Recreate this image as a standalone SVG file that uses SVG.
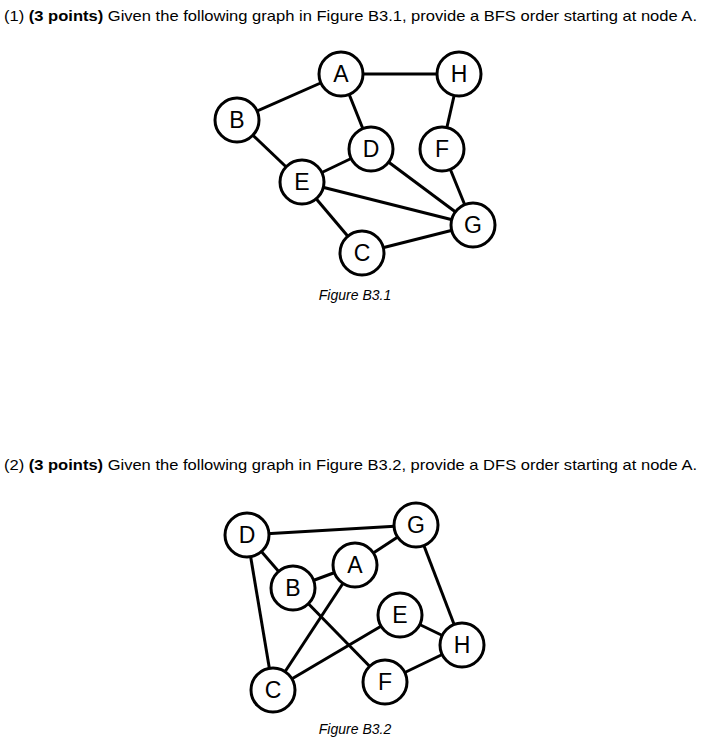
<svg xmlns="http://www.w3.org/2000/svg" width="706" height="745" viewBox="0 0 706 745">
<style>
.t{font-family:"Liberation Sans",Arial,sans-serif;font-size:15px;fill:#000}
.cap{font-family:"Liberation Sans",Arial,sans-serif;font-size:14px;font-style:italic;fill:#000}
.n circle{fill:#fff;stroke:#000;stroke-width:3}
.n text{font-family:"Liberation Sans",Arial,sans-serif;font-size:23px;text-anchor:middle;fill:#000}
.e line{stroke:#000;stroke-width:3}
</style>
<rect width="706" height="745" fill="#fff"/>
<text class="t" x="4" y="21" textLength="693" lengthAdjust="spacingAndGlyphs">(1) <tspan font-weight="bold">(3 points)</tspan> Given the following graph in Figure B3.1, provide a BFS order starting at node A.</text>
<text class="t" x="4" y="470" textLength="693" lengthAdjust="spacingAndGlyphs">(2) <tspan font-weight="bold">(3 points)</tspan> Given the following graph in Figure B3.2, provide a DFS order starting at node A.</text>
<text class="cap" x="355" y="300" text-anchor="middle">Figure B3.1</text>
<text class="cap" x="355" y="734" text-anchor="middle">Figure B3.2</text>
<g id="edges1" class="e">
<line x1="341" y1="74" x2="459" y2="74"/>
<line x1="341" y1="74" x2="237" y2="120"/>
<line x1="341" y1="74" x2="371" y2="149"/>
<line x1="459" y1="74" x2="442" y2="149"/>
<line x1="237" y1="120" x2="302" y2="182"/>
<line x1="302" y1="182" x2="371" y2="149"/>
<line x1="302" y1="182" x2="473" y2="225"/>
<line x1="302" y1="182" x2="362" y2="253"/>
<line x1="371" y1="149" x2="473" y2="225"/>
<line x1="442" y1="149" x2="473" y2="225"/>
<line x1="362" y1="253" x2="473" y2="225"/>
</g>
<g id="A1" class="n"><circle cx="341" cy="74" r="22"/><text x="341" y="82">A</text></g>
<g id="H1" class="n"><circle cx="459" cy="74" r="22"/><text x="459" y="82">H</text></g>
<g id="B1" class="n"><circle cx="237" cy="120" r="22"/><text x="237" y="128">B</text></g>
<g id="D1" class="n"><circle cx="371" cy="149" r="22"/><text x="371" y="157">D</text></g>
<g id="F1" class="n"><circle cx="442" cy="149" r="22"/><text x="442" y="157">F</text></g>
<g id="E1" class="n"><circle cx="302" cy="182" r="22"/><text x="302" y="190">E</text></g>
<g id="G1" class="n"><circle cx="473" cy="225" r="22"/><text x="473" y="233">G</text></g>
<g id="C1" class="n"><circle cx="362" cy="253" r="22"/><text x="362" y="261">C</text></g>
<g id="edges2" class="e">
<line x1="247" y1="535" x2="416" y2="525"/>
<line x1="247" y1="535" x2="293" y2="588"/>
<line x1="247" y1="535" x2="273" y2="690"/>
<line x1="293" y1="588" x2="355" y2="565"/>
<line x1="355" y1="565" x2="416" y2="525"/>
<line x1="355" y1="565" x2="273" y2="690"/>
<line x1="293" y1="588" x2="385" y2="682"/>
<line x1="400" y1="615" x2="273" y2="690"/>
<line x1="400" y1="615" x2="462" y2="645"/>
<line x1="416" y1="525" x2="462" y2="645"/>
<line x1="385" y1="682" x2="462" y2="645"/>
</g>
<g id="D2" class="n"><circle cx="247" cy="535" r="22"/><text x="247" y="543">D</text></g>
<g id="G2" class="n"><circle cx="416" cy="525" r="22"/><text x="416" y="533">G</text></g>
<g id="A2" class="n"><circle cx="355" cy="565" r="22"/><text x="355" y="573">A</text></g>
<g id="B2" class="n"><circle cx="293" cy="588" r="22"/><text x="293" y="596">B</text></g>
<g id="E2" class="n"><circle cx="400" cy="615" r="22"/><text x="400" y="623">E</text></g>
<g id="H2" class="n"><circle cx="462" cy="645" r="22"/><text x="462" y="653">H</text></g>
<g id="C2" class="n"><circle cx="273" cy="690" r="22"/><text x="273" y="698">C</text></g>
<g id="F2" class="n"><circle cx="385" cy="682" r="22"/><text x="385" y="690">F</text></g>
</svg>
